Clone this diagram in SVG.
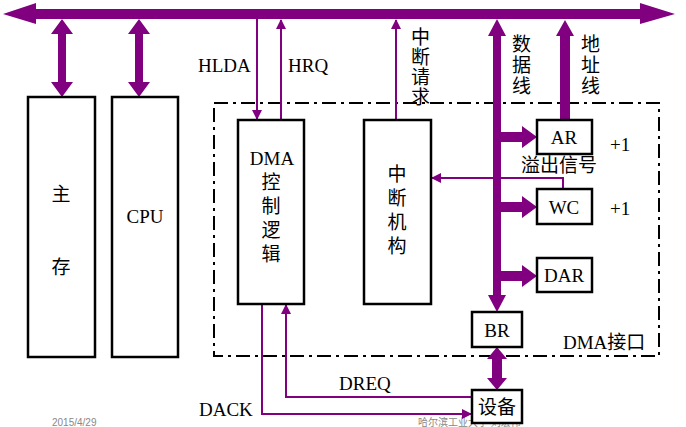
<svg xmlns="http://www.w3.org/2000/svg" width="686" height="427" viewBox="0 0 686 427">
<style>
.box{fill:#fff;stroke:#000;stroke-width:2.5}
.t{font-family:"Liberation Serif","Noto Sans CJK SC",serif;font-size:19px;fill:#000}
.thin{stroke:#800080;stroke-width:2;fill:none}
.thick{fill:#800080}
</style>
<defs>
<marker id="a" viewBox="0 0 10 10" refX="9" refY="5" markerWidth="5" markerHeight="5" orient="auto-start-reverse"><path d="M0,0L10,5L0,10z" fill="#800080"/></marker>
</defs>
<text x="52" y="426" font-family="Liberation Sans,sans-serif" font-size="10" fill="#888">2015/4/29</text>
<text x="418" y="426" font-family="Liberation Sans,'Noto Sans CJK SC',sans-serif" font-size="10" fill="#888">哈尔滨工业大学 刘宏伟</text>
<rect x="214" y="103" width="445" height="253" fill="none" stroke="#000" stroke-width="2" stroke-dasharray="14,5,3,5"/>
<g id="connectors">
<polygon class="thick" points="3,14 36,3 36,9 640,9 640,3 675,14 640,24 640,19 36,19 36,24"/>
<polygon class="thick" points="62,19 73,34 66,34 66,82 73,82 62,97 51,82 58,82 58,34 51,34"/>
<polygon class="thick" points="139,19 150,34 143,34 143,82 150,82 139,97 128,82 135,82 135,34 128,34"/>
<polygon class="thick" points="497,19 506,36 501,36 501,295 506,295 497,312 488,295 493,295 493,36 488,36"/>
<polygon class="thick" points="565,20 574,36 570,36 570,120 560,120 560,36 556,36"/>
<polygon class="thick" points="497,132 522,132 522,126 537,137 522,148 522,142 497,142"/>
<polygon class="thick" points="497,202 522,202 522,196 537,207 522,218 522,212 497,212"/>
<polygon class="thick" points="497,271 522,271 522,265 537,276 522,287 522,281 497,281"/>
<polygon class="thick" points="497,347 507,359 502,359 502,378 507,378 497,390 487,378 492,378 492,359 487,359"/>
<line class="thin" x1="257" y1="19" x2="257" y2="119" marker-end="url(#a)"/>
<line class="thin" x1="281" y1="120" x2="281" y2="20" marker-end="url(#a)"/>
<line class="thin" x1="396" y1="120" x2="396" y2="20" marker-end="url(#a)"/>
<polyline class="thin" points="563,189 563,178 432,178" marker-end="url(#a)"/>
<polyline class="thin" points="472,397 286,397 286,305" marker-end="url(#a)"/>
<polyline class="thin" points="262,304 262,414 471,414" marker-end="url(#a)"/>
</g>
<g id="mem"><rect class="box" x="28" y="97" width="67" height="260"/><text class="t" x="61" y="201" text-anchor="middle">主</text><text class="t" x="61" y="274" text-anchor="middle">存</text></g>
<g id="cpu"><rect class="box" x="112" y="97" width="66" height="260"/><text class="t" x="145" y="223" text-anchor="middle">CPU</text></g>
<g id="dmactl"><rect class="box" x="238" y="120" width="66" height="184"/><text class="t" x="272" y="165" text-anchor="middle">DMA</text><text class="t" x="271" y="189" text-anchor="middle">控</text><text class="t" x="271" y="213" text-anchor="middle">制</text><text class="t" x="271" y="237" text-anchor="middle">逻</text><text class="t" x="271" y="261" text-anchor="middle">辑</text></g>
<g id="int"><rect class="box" x="364" y="120" width="67" height="184"/><text class="t" x="397" y="181" text-anchor="middle">中</text><text class="t" x="397" y="205" text-anchor="middle">断</text><text class="t" x="397" y="229" text-anchor="middle">机</text><text class="t" x="397" y="253" text-anchor="middle">构</text></g>
<g id="ar"><rect class="box" x="537" y="120" width="55" height="34"/><text class="t" x="564" y="144" text-anchor="middle">AR</text></g>
<g id="wc"><rect class="box" x="537" y="189" width="55" height="35"/><text class="t" x="564" y="214" text-anchor="middle">WC</text></g>
<g id="dar"><rect class="box" x="537" y="258" width="55" height="34"/><text class="t" x="564" y="282" text-anchor="middle">DAR</text></g>
<g id="br"><rect class="box" x="472" y="312" width="50" height="35"/><text class="t" x="497" y="337" text-anchor="middle">BR</text></g>
<g id="dev"><rect class="box" x="472" y="390" width="50" height="33"/><text class="t" x="497" y="414" text-anchor="middle">设备</text></g>
<text class="t" x="198" y="72">HLDA</text>
<text class="t" x="288" y="72">HRQ</text>
<text class="t" x="411" y="44">中</text><text class="t" x="411" y="64">断</text><text class="t" x="411" y="84">请</text><text class="t" x="411" y="104">求</text>
<text class="t" x="512" y="51">数</text><text class="t" x="512" y="72">据</text><text class="t" x="512" y="93">线</text>
<text class="t" x="581" y="51">地</text><text class="t" x="581" y="72">址</text><text class="t" x="581" y="93">线</text>
<text class="t" x="610" y="151">+1</text>
<text class="t" x="610" y="215">+1</text>
<text class="t" x="521" y="172" font-size="16">溢出信号</text>
<text class="t" x="563" y="349">DMA接口</text>
<text class="t" x="339" y="390">DREQ</text>
<text class="t" x="199" y="416">DACK</text>
</svg>
